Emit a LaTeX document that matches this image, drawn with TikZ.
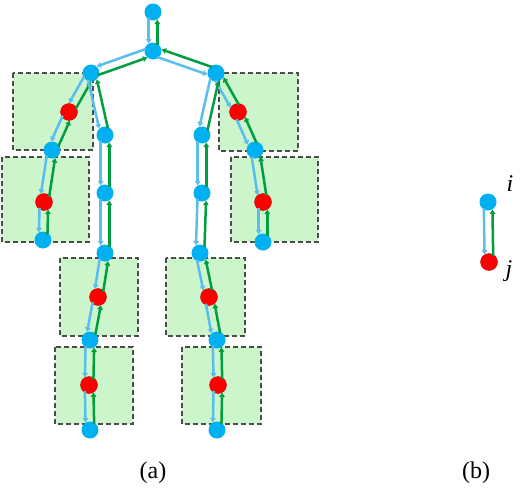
\documentclass[tikz,border=0pt]{standalone}
\usepackage{fontspec}
\setmainfont{Liberation Serif}
\usetikzlibrary{calc,arrows.meta}
\definecolor{jblue}{RGB}{0,176,240}
\definecolor{jred}{RGB}{255,0,0}
\definecolor{lblue}{RGB}{88,190,238}
\definecolor{lgreen}{RGB}{0,158,64}
\definecolor{boxfill}{RGB}{204,245,204}
\tikzset{
  bj/.style={circle,fill=jblue,minimum size=17pt,inner sep=0pt},
  rj/.style={circle,fill=jred,draw=jred!80!black,line width=0.4pt,minimum size=17pt,inner sep=0pt},
  partbox/.style={fill=boxfill,draw=black!70,dashed,dash pattern=on 5pt off 3pt,line width=1.2pt},
  downline/.style={draw=lblue,line width=2.5pt,shorten <=6pt,shorten >=7.5pt,-{Triangle[length=4.5pt,width=5.5pt]}},
  upline/.style={draw=lgreen,line width=2.5pt,shorten <=6pt,shorten >=7.5pt,-{Triangle[length=4.5pt,width=5.5pt]}},
  lbl/.style={font=\fontsize{24}{28}\selectfont}
}
\newcommand\bonepair[2]{%
  \draw[downline] ($(#1)!4.3pt!-90:(#2)$) -- ($(#2)!4.3pt!90:(#1)$);
  \draw[upline] ($(#2)!4.3pt!-90:(#1)$) -- ($(#1)!4.3pt!90:(#2)$);
}
\begin{document}
\begin{tikzpicture}[x=1pt,y=-1pt]
\useasboundingbox (0,0) rectangle (520,490);
% part boxes
\draw[partbox] (13,73) rectangle (93,150);
\draw[partbox] (2,157) rectangle (89,242);
\draw[partbox] (219,73) rectangle (298,151);
\draw[partbox] (231,157) rectangle (318,242);
\draw[partbox] (60,258) rectangle (138,336);
\draw[partbox] (55,347) rectangle (133,424);
\draw[partbox] (166,258) rectangle (245,336);
\draw[partbox] (182,347) rectangle (261,424);
% joints
\node[bj] (h) at (153,12) {};
\node[bj] (n) at (153,51) {};
\node[bj] (ls) at (91,73) {};
\node[rj] (le) at (69,112) {};
\node[bj] (lw) at (52,150) {};
\node[rj] (lr) at (44,202) {};
\node[bj] (lh) at (43,240) {};
\node[bj] (rs) at (216,73) {};
\node[rj] (re) at (238,112) {};
\node[bj] (rw) at (255,150) {};
\node[rj] (rr) at (263,202) {};
\node[bj] (rh) at (263,242) {};
\node[bj] (l1) at (105,135) {};
\node[bj] (l2) at (105,193) {};
\node[bj] (l3) at (105,253) {};
\node[rj] (l4) at (98,297) {};
\node[bj] (l5) at (90,340) {};
\node[rj] (l6) at (89,385) {};
\node[bj] (l7) at (90,430) {};
\node[bj] (r1) at (202,135) {};
\node[bj] (r2) at (202,193) {};
\node[bj] (r3) at (200,253) {};
\node[rj] (r4) at (209,297) {};
\node[bj] (r5) at (217,340) {};
\node[rj] (r6) at (218,385) {};
\node[bj] (r7) at (217,430) {};
% bones
\bonepair{h}{n}
\bonepair{n}{ls}
\bonepair{n}{rs}
\bonepair{ls}{le}
\bonepair{le}{lw}
\bonepair{lw}{lr}
\bonepair{lr}{lh}
\bonepair{rs}{re}
\bonepair{re}{rw}
\bonepair{rw}{rr}
\bonepair{rr}{rh}
\bonepair{ls}{l1}
\bonepair{l1}{l2}
\bonepair{l2}{l3}
\bonepair{l3}{l4}
\bonepair{l4}{l5}
\bonepair{l5}{l6}
\bonepair{l6}{l7}
\bonepair{rs}{r1}
\bonepair{r1}{r2}
\bonepair{r2}{r3}
\bonepair{r3}{r4}
\bonepair{r4}{r5}
\bonepair{r5}{r6}
\bonepair{r6}{r7}
% panel (b)
\node[bj] (bi) at (488,202) {};
\node[rj] (bjn) at (489,262) {};
\bonepair{bi}{bjn}
\node[lbl] (ti) at (510,184) {\itshape i};
\node[lbl] (tj) at (509,271) {\itshape j};
\node[lbl] (ca) at (153,473) {(a)};
\node[lbl] (cb) at (476,473) {(b)};
\end{tikzpicture}
\end{document}
